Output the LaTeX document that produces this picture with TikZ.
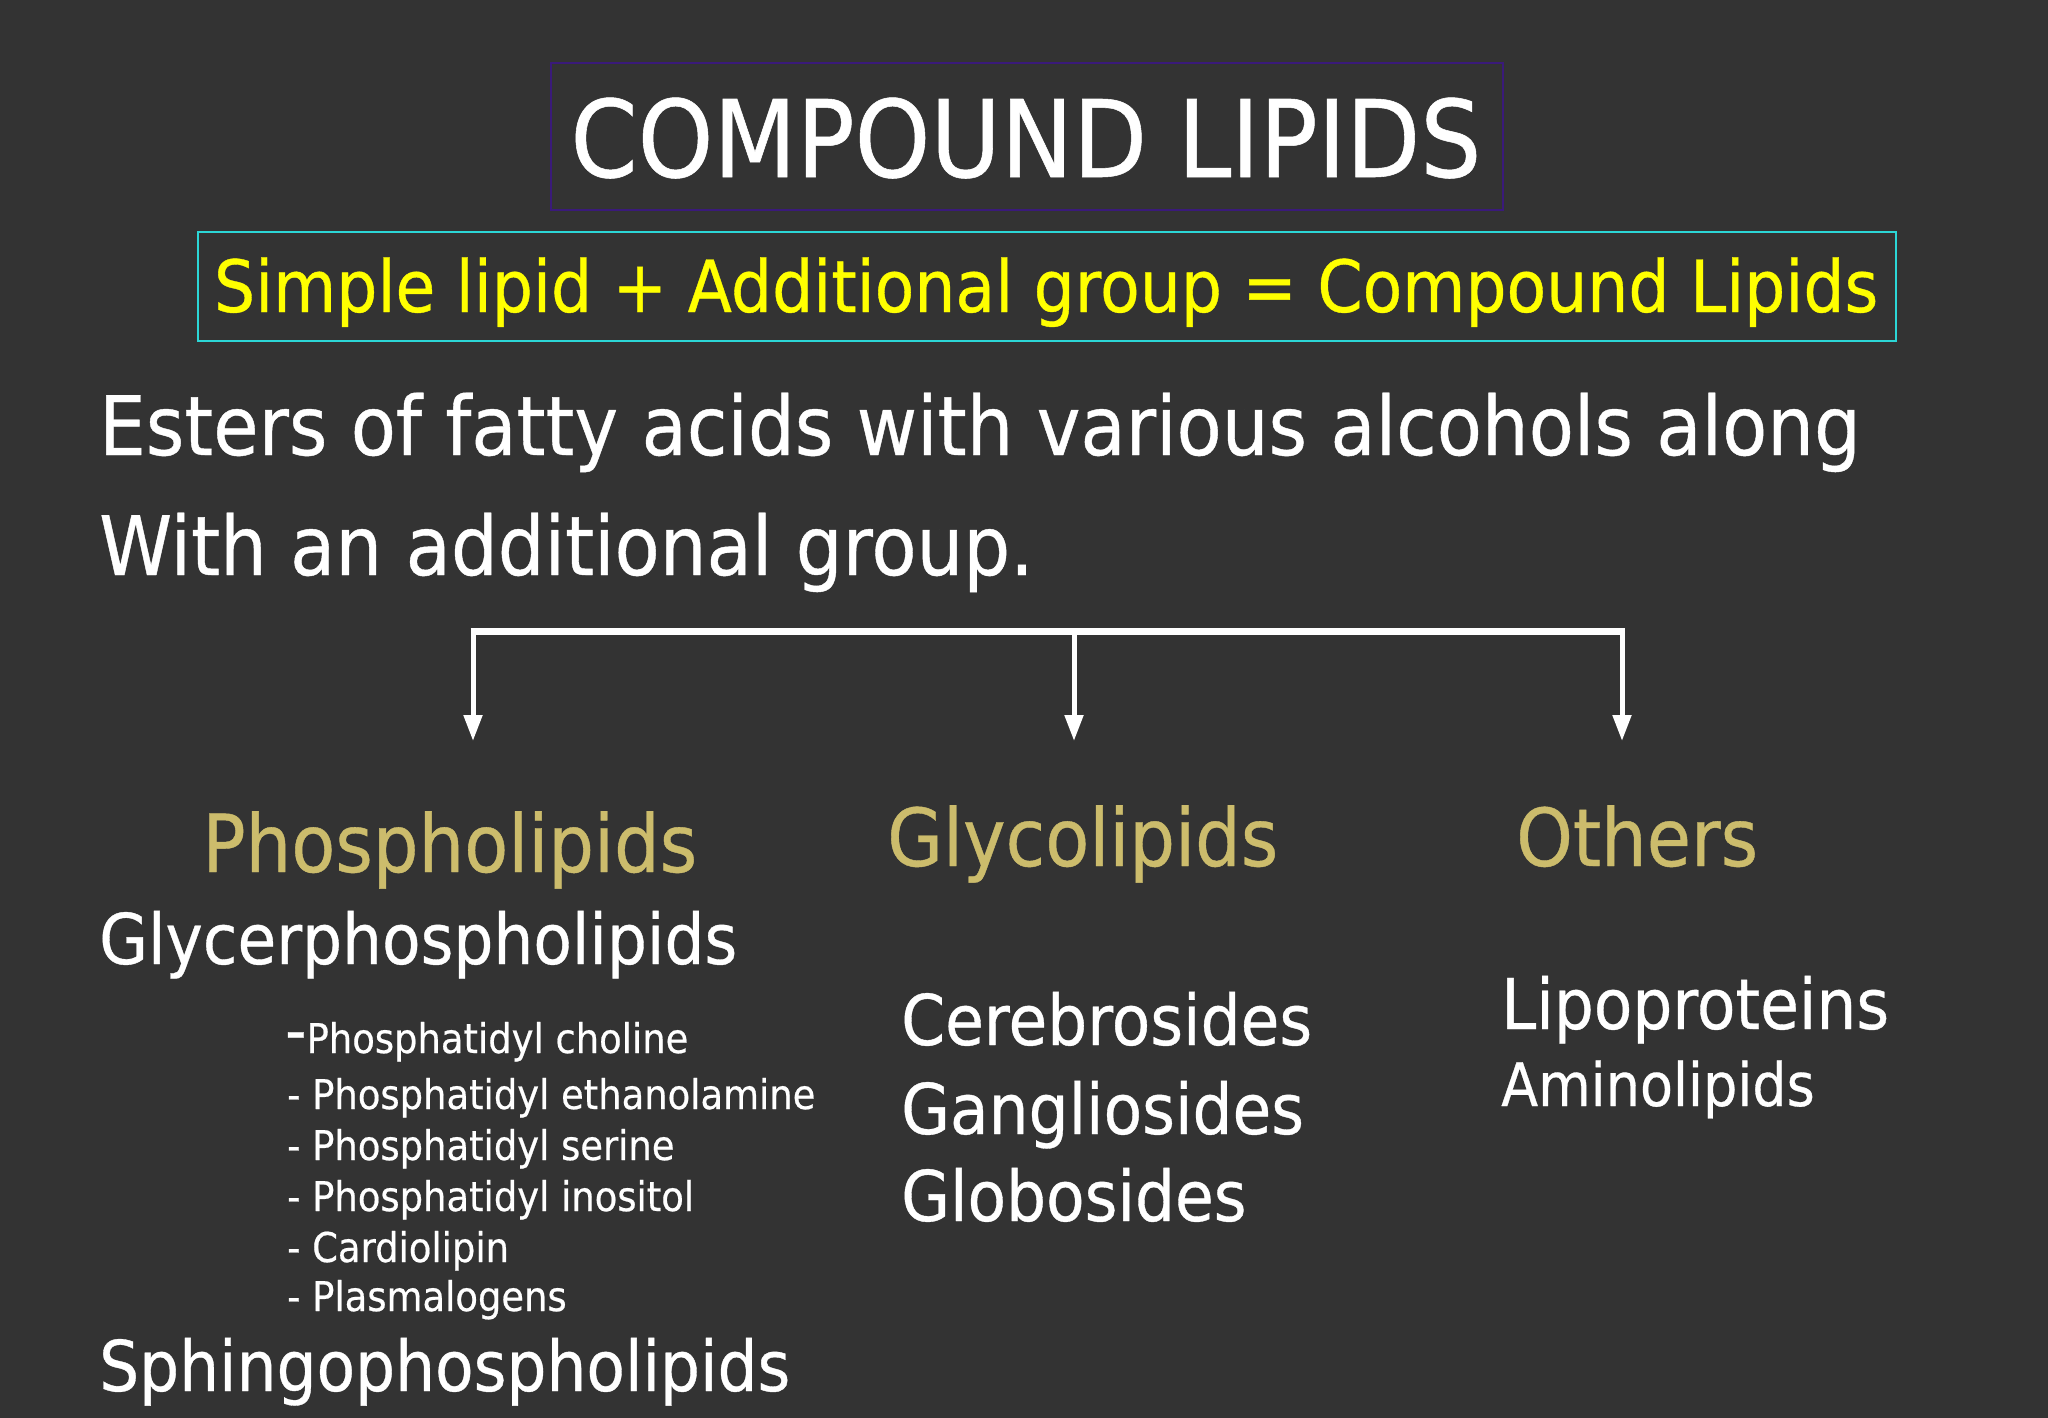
\documentclass[tikz,border=0pt]{standalone}
\usepackage{fontspec}
\setmainfont{DejaVu Sans}[FakeStretch=0.9,FakeBold=0.5]
\usetikzlibrary{arrows.meta,calc}

\definecolor{slide}{HTML}{333333}
\definecolor{tan}{HTML}{CCBC6C}
\definecolor{frame}{HTML}{3A1A7A}
\definecolor{aqua}{HTML}{2CD6D6}
\definecolor{lemon}{HTML}{FFFF00}

\begin{document}
\begin{tikzpicture}[x=1pt,y=-1pt,
  txt/.style={anchor=base west,inner sep=0pt,text=white},
  head/.style={txt,text=tan,font=\fontsize{80}{90}\selectfont},
  item/.style={txt,font=\fontsize{70}{80}\selectfont},
  sub/.style={txt,font=\fontsize{41}{48}\selectfont},
  bar/.style={white,line width=7pt},
  arr/.style={white,line width=5pt,-{Triangle[length=26pt,width=18pt]}}]
\fill[slide] (0,0) rectangle (2048,1418);
\useasboundingbox (0,0) rectangle (2048,1418);

\coordinate (b1) at (473,631);
\coordinate (b2) at (1074,631);
\coordinate (b3) at (1622,631);
\coordinate (t1) at (473,741);
\coordinate (t2) at (1074,741);
\coordinate (t3) at (1622,741);

\draw[frame,line width=1.5pt] (551,63) rectangle (1503,210);
\node[txt,anchor=base] (title) at (1026,177) {\fontsize{107}{120}\selectfont COMPOUND LIPIDS};

\draw[aqua,line width=2.5pt] (198,232) rectangle (1896,341);
\node[txt,anchor=base,text=lemon] (rule) at (1046,312) {\fontsize{72}{80}\selectfont Simple lipid + Additional group = Compound Lipids};

\node[txt] (def1) at (99,455) {\fontsize{82}{90}\selectfont Esters of fatty acids with various alcohols along};
\node[txt] (def2) at (99,575) {\fontsize{82}{90}\selectfont With an additional group.};

\draw[bar] ($(b1)+(-2.5,0)$) -- ($(b3)+(2.5,0)$);
\draw[arr] (b1) -- (t1);
\draw[arr] (b2) -- (t2);
\draw[arr] (b3) -- (t3);

\node[head] (phos) at (202,872) {Phospholipids};
\node[head] (glyco) at (887,866) {Glycolipids};
\node[head] (other) at (1516,866) {Others};

\node[item] (glycer) at (99,964) {Glycerphospholipids};
\node[sub] (pc) at (285,1053) {{\fontsize{66}{66}\selectfont -}Phosphatidyl choline};
\node[sub] (pe) at (287,1109) {- Phosphatidyl ethanolamine};
\node[sub] (ps) at (287,1160) {- Phosphatidyl serine};
\node[sub] (pi) at (287,1211) {- Phosphatidyl inositol};
\node[sub] (cl) at (287,1262) {- Cardiolipin};
\node[sub] (pl) at (287,1311) {- Plasmalogens};
\node[item] (sphingo) at (99,1391) {Sphingophospholipids};

\node[item] (cere) at (901,1045) {Cerebrosides};
\node[item] (gang) at (901,1134) {Gangliosides};
\node[item] (glob) at (901,1221) {Globosides};

\node[item] (lipo) at (1501,1029) {Lipoproteins};
\node[txt,font=\fontsize{60}{70}\selectfont] (amino) at (1501,1106) {Aminolipids};

\end{tikzpicture}
\end{document}
